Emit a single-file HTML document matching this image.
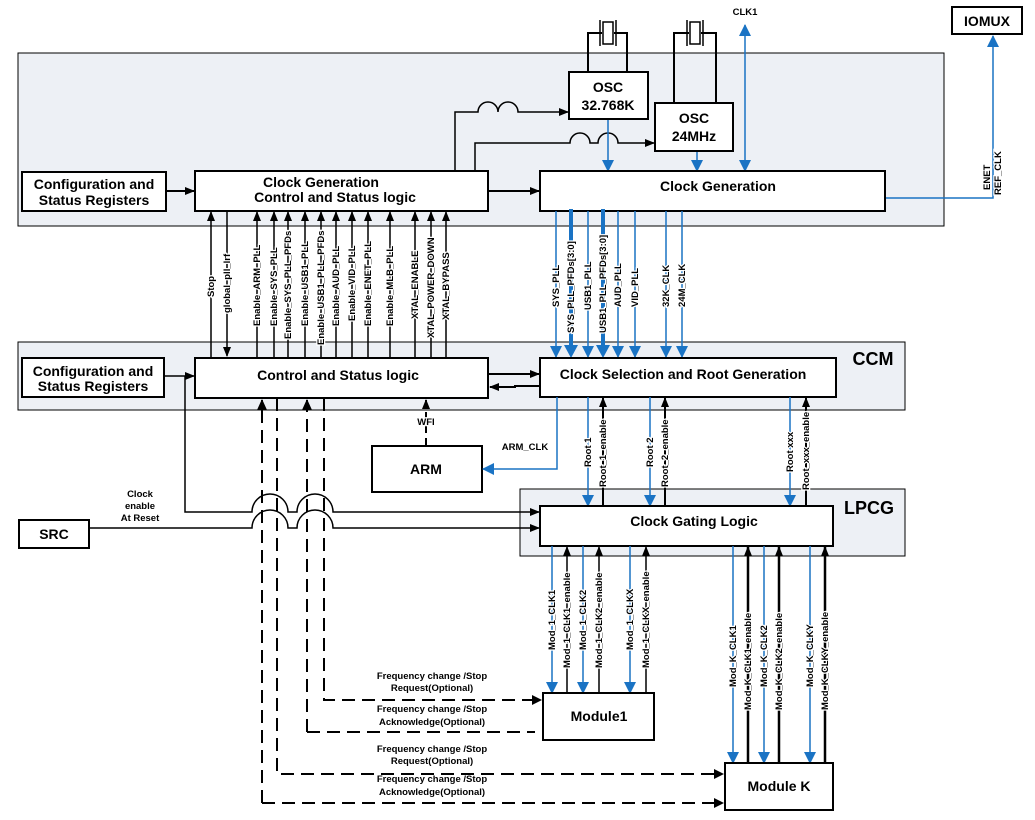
<!DOCTYPE html>
<html><head><meta charset="utf-8"><style>
html,body{margin:0;padding:0;background:#fff}
svg{display:block;font-family:"Liberation Sans",Arial,sans-serif}
.b{font-weight:bold}
.t{font-size:14px;font-weight:bold;text-anchor:middle}
.s{font-size:9.5px;font-weight:bold;paint-order:stroke;stroke:#fff;stroke-width:2.5px}
.k{stroke:#000;fill:none}
.bl{stroke:#1a73c4;fill:none}
.box{fill:#fff;stroke:#000;stroke-width:2}
.pan{fill:#edf0f5;stroke:#000;stroke-width:1}
.d{stroke:#000;fill:none;stroke-width:2;stroke-dasharray:13,7}
</style></head><body>
<svg width="1035" height="820" viewBox="0 0 1035 820">
<defs>
<marker id="ak" markerWidth="10" markerHeight="10" refX="9" refY="5" orient="auto" markerUnits="userSpaceOnUse"><path d="M0,1 L10,5 L0,9 Z" fill="#000"/></marker>
<marker id="ab" markerWidth="12" markerHeight="12" refX="11" refY="6" orient="auto" markerUnits="userSpaceOnUse"><path d="M0,0 L12,6 L0,12 Z" fill="#1a73c4"/></marker>
<marker id="abs" markerWidth="12" markerHeight="12" refX="1" refY="6" orient="auto" markerUnits="userSpaceOnUse"><path d="M12,0 L0,6 L12,12 Z" fill="#1a73c4"/></marker>
</defs>

<rect class="pan" x="18" y="53" width="926" height="173"/>
<rect class="pan" x="18" y="342" width="887" height="68"/>
<rect class="pan" x="520" y="489" width="385" height="67"/>
<text x="873" y="365" class="b" font-size="18" text-anchor="middle">CCM</text>
<text x="869" y="514" class="b" font-size="18" text-anchor="middle">LPCG</text>

<path class="k" stroke-width="2" d="M588,72 V33 H602 M614,33 H627 V72"/>
<rect x="603" y="22" width="10" height="22" fill="#fff" stroke="#000" stroke-width="1.5"/>
<line x1="600" y1="20" x2="600" y2="46" stroke="#000" stroke-width="1.5"/><line x1="616" y1="20" x2="616" y2="46" stroke="#000" stroke-width="1.5"/>
<path class="k" stroke-width="2" d="M674,103 V33 H689 M701,33 H716 V103"/>
<rect x="690" y="22" width="10" height="22" fill="#fff" stroke="#000" stroke-width="1.5"/>
<line x1="687" y1="20" x2="687" y2="46" stroke="#000" stroke-width="1.5"/><line x1="703" y1="20" x2="703" y2="46" stroke="#000" stroke-width="1.5"/>

<path class="k" stroke-width="1.5" d="M455,171 V112 H478 a10,10 0 0 1 20,0 a10,10 0 0 1 20,0 H568" marker-end="url(#ak)"/>
<path class="k" stroke-width="1.5" d="M475,171 V143 H570 a10,10 0 0 1 20,0 H598 a10,10 0 0 1 20,0 H654" marker-end="url(#ak)"/>
<line class="k" stroke-width="2" x1="166" y1="191" x2="194" y2="191" marker-end="url(#ak)"/>
<line class="k" stroke-width="2" x1="488" y1="191" x2="539" y2="191" marker-end="url(#ak)"/>
<line class="bl" stroke-width="1.5" x1="608" y1="119" x2="608" y2="171" marker-end="url(#ab)"/>
<line class="bl" stroke-width="1.5" x1="697" y1="151" x2="697" y2="171" marker-end="url(#ab)"/>
<line class="bl" stroke-width="1.5" x1="745" y1="171" x2="745" y2="25" marker-end="url(#ab)" marker-start="url(#abs)"/>
<text x="745" y="15" class="b" font-size="9.5" text-anchor="middle">CLK1</text>
<path class="bl" stroke-width="1.5" d="M885,198 H993 V36" marker-end="url(#ab)"/>
<text class="s" transform="translate(990,190) rotate(-90)">ENET</text>
<text class="s" transform="translate(1001,195) rotate(-90)">REF_CLK</text>

<rect class="box" x="952" y="7" width="70" height="27"/><text x="987" y="26" class="t">IOMUX</text>
<rect class="box" x="569" y="72" width="79" height="47"/><text x="608" y="92" class="t">OSC</text><text x="608" y="110" class="t">32.768K</text>
<rect class="box" x="655" y="103" width="78" height="48"/><text x="694" y="123" class="t">OSC</text><text x="694" y="141" class="t">24MHz</text>
<rect class="box" x="22" y="172" width="144" height="39"/><text x="94" y="189" class="t">Configuration and</text><text x="94" y="205" class="t">Status Registers</text>
<rect class="box" x="195" y="171" width="293" height="40"/><text x="321" y="187" class="t">Clock Generation</text><text x="335" y="202" class="t">Control and Status logic</text>
<rect class="box" x="540" y="171" width="345" height="40"/><text x="718" y="191" class="t">Clock Generation</text>

<g stroke-width="1.5">
<line class="k" x1="211" y1="357" x2="211" y2="212" marker-end="url(#ak)"/>
<line class="k" x1="227" y1="211" x2="227" y2="356" marker-end="url(#ak)"/>
<line class="k" x1="257" y1="357" x2="257" y2="212" marker-end="url(#ak)"/>
<line class="k" x1="274" y1="357" x2="274" y2="212" marker-end="url(#ak)"/>
<line class="k" x1="288" y1="357" x2="288" y2="212" marker-end="url(#ak)"/>
<line class="k" x1="305" y1="357" x2="305" y2="212" marker-end="url(#ak)"/>
<line class="k" x1="321" y1="357" x2="321" y2="212" marker-end="url(#ak)"/>
<line class="k" x1="336" y1="357" x2="336" y2="212" marker-end="url(#ak)"/>
<line class="k" x1="352" y1="357" x2="352" y2="212" marker-end="url(#ak)"/>
<line class="k" x1="368" y1="357" x2="368" y2="212" marker-end="url(#ak)"/>
<line class="k" x1="390" y1="357" x2="390" y2="212" marker-end="url(#ak)"/>
<line class="k" x1="415" y1="357" x2="415" y2="212" marker-end="url(#ak)"/>
<line class="k" x1="431" y1="357" x2="431" y2="212" marker-end="url(#ak)"/>
<line class="k" x1="446" y1="357" x2="446" y2="212" marker-end="url(#ak)"/>
</g>
<g>
<text class="s" transform="translate(214,297) rotate(-90)">Stop</text>
<text class="s" transform="translate(230,313) rotate(-90)">global_pll_lrf</text>
<text class="s" transform="translate(260,326) rotate(-90)">Enable_ARM_PLL</text>
<text class="s" transform="translate(277,326) rotate(-90)">Enable_SYS_PLL</text>
<text class="s" transform="translate(291,339) rotate(-90)">Enable_SYS_PLL_PFDs</text>
<text class="s" transform="translate(308,326) rotate(-90)">Enable_USB1_PLL</text>
<text class="s" transform="translate(324,345) rotate(-90)">Enable_USB1_PLL_PFDs</text>
<text class="s" transform="translate(339,326) rotate(-90)">Enable_AUD_PLL</text>
<text class="s" transform="translate(355,321) rotate(-90)">Enable_VID_PLL</text>
<text class="s" transform="translate(371,326) rotate(-90)">Enable_ENET_PLL</text>
<text class="s" transform="translate(393,326) rotate(-90)">Enable_MLB_PLL</text>
<text class="s" transform="translate(418,319) rotate(-90)">XTAL_ENABLE</text>
<text class="s" transform="translate(434,338) rotate(-90)">XTAL_POWER_DOWN</text>
<text class="s" transform="translate(449,320) rotate(-90)">XTAL_BYPASS</text>
</g>

<g>
<line class="bl" stroke-width="1.5" x1="556" y1="211" x2="556" y2="357" marker-end="url(#ab)"/>
<line class="bl" stroke-width="4" x1="571" y1="209" x2="571" y2="350"/><path d="M564,345 L578,345 L571,358 Z" fill="#1a73c4"/>
<line class="bl" stroke-width="1.5" x1="588" y1="211" x2="588" y2="357" marker-end="url(#ab)"/>
<line class="bl" stroke-width="4" x1="603" y1="209" x2="603" y2="350"/><path d="M596,345 L610,345 L603,358 Z" fill="#1a73c4"/>
<line class="bl" stroke-width="1.5" x1="618" y1="211" x2="618" y2="357" marker-end="url(#ab)"/>
<line class="bl" stroke-width="1.5" x1="635" y1="211" x2="635" y2="357" marker-end="url(#ab)"/>
<line class="bl" stroke-width="1.5" x1="666" y1="211" x2="666" y2="357" marker-end="url(#ab)"/>
<line class="bl" stroke-width="1.5" x1="682" y1="211" x2="682" y2="357" marker-end="url(#ab)"/>
<text class="s" transform="translate(559,307) rotate(-90)">SYS_PLL</text>
<text class="s" transform="translate(574,333) rotate(-90)">SYS_PLL_PFDs[3:0]</text>
<text class="s" transform="translate(591,310) rotate(-90)">USB1_PLL</text>
<text class="s" transform="translate(606,333) rotate(-90)">USB1_PLL_PFDs[3:0]</text>
<text class="s" transform="translate(621,307) rotate(-90)">AUD_PLL</text>
<text class="s" transform="translate(638,307) rotate(-90)">VID_PLL</text>
<text class="s" transform="translate(669,307) rotate(-90)">32K_CLK</text>
<text class="s" transform="translate(685,307) rotate(-90)">24M_CLK</text>
</g>

<rect class="box" x="22" y="358" width="142" height="39"/><text x="93" y="376" class="t">Configuration and</text><text x="93" y="391" class="t">Status Registers</text>
<rect class="box" x="195" y="358" width="293" height="40"/><text x="338" y="380" class="t">Control and Status logic</text>
<rect class="box" x="540" y="358" width="296" height="39"/><text x="683" y="379" class="t">Clock Selection and Root Generation</text>
<line class="k" stroke-width="2" x1="488" y1="374" x2="539" y2="374" marker-end="url(#ak)"/>
<path class="k" stroke-width="2" d="M540,386 H515 V387 H490" marker-end="url(#ak)"/>
<path class="k" stroke-width="1.5" d="M164,376 H194" marker-end="url(#ak)"/>
<path class="k" stroke-width="1.5" d="M185,376 V512 H252 a18,18 0 0 1 36,0 H297 a18,18 0 0 1 36,0 H539" marker-end="url(#ak)"/>
<path class="k" stroke-width="1.5" d="M89,528 H252 a18,18 0 0 1 36,0 H297 a18,18 0 0 1 36,0 H539" marker-end="url(#ak)"/>
<rect class="box" x="19" y="520" width="70" height="28"/><text x="54" y="539" class="t">SRC</text>
<text x="140" y="497" class="b" font-size="9.5" text-anchor="middle">Clock</text>
<text x="140" y="509" class="b" font-size="9.5" text-anchor="middle">enable</text>
<text x="140" y="521" class="b" font-size="9.5" text-anchor="middle">At Reset</text>

<rect class="box" x="372" y="446" width="110" height="46"/><text x="426" y="474" class="t">ARM</text>
<line class="k" stroke-width="2" stroke-dasharray="8,5" x1="426" y1="446" x2="426" y2="400" marker-end="url(#ak)"/>
<text x="426" y="425" class="s" text-anchor="middle">WFI</text>
<path class="bl" stroke-width="1.5" d="M557,397 V469 H483" marker-end="url(#ab)"/>
<text x="525" y="450" class="b" font-size="9.5" text-anchor="middle">ARM_CLK</text>

<line class="bl" stroke-width="1.5" x1="588" y1="397" x2="588" y2="506" marker-end="url(#ab)"/>
<line class="k" stroke-width="2" x1="603" y1="506" x2="603" y2="398" marker-end="url(#ak)"/>
<line class="bl" stroke-width="1.5" x1="650" y1="397" x2="650" y2="506" marker-end="url(#ab)"/>
<line class="k" stroke-width="2" x1="665" y1="506" x2="665" y2="398" marker-end="url(#ak)"/>
<line class="bl" stroke-width="1.5" x1="790" y1="397" x2="790" y2="506" marker-end="url(#ab)"/>
<line class="k" stroke-width="2" x1="806" y1="506" x2="806" y2="398" marker-end="url(#ak)"/>
<text class="s" transform="translate(591,467) rotate(-90)">Root 1</text>
<text class="s" transform="translate(606,487) rotate(-90)">Root_1_enable</text>
<text class="s" transform="translate(653,467) rotate(-90)">Root 2</text>
<text class="s" transform="translate(668,487) rotate(-90)">Root_2_enable</text>
<text class="s" transform="translate(793,472) rotate(-90)">Root xxx</text>
<text class="s" transform="translate(809,490) rotate(-90)">Root_xxx_enable</text>

<rect class="box" x="540" y="506" width="293" height="40"/><text x="694" y="526" class="t">Clock Gating Logic</text>

<line class="bl" stroke-width="1.5" x1="552" y1="546" x2="552" y2="693" marker-end="url(#ab)"/>
<line class="k" stroke-width="1.5" x1="567" y1="693" x2="567" y2="547" marker-end="url(#ak)"/>
<line class="bl" stroke-width="1.5" x1="583" y1="546" x2="583" y2="693" marker-end="url(#ab)"/>
<line class="k" stroke-width="1.5" x1="599" y1="693" x2="599" y2="547" marker-end="url(#ak)"/>
<line class="bl" stroke-width="1.5" x1="630" y1="546" x2="630" y2="693" marker-end="url(#ab)"/>
<line class="k" stroke-width="1.5" x1="646" y1="693" x2="646" y2="547" marker-end="url(#ak)"/>
<text class="s" transform="translate(555,650) rotate(-90)">Mod_1_CLK1</text>
<text class="s" transform="translate(570,668) rotate(-90)">Mod_1_CLK1_enable</text>
<text class="s" transform="translate(586,650) rotate(-90)">Mod_1_CLK2</text>
<text class="s" transform="translate(602,668) rotate(-90)">Mod_1_CLK2_enable</text>
<text class="s" transform="translate(633,650) rotate(-90)">Mod_1_CLKX</text>
<text class="s" transform="translate(649,668) rotate(-90)">Mod_1_CLKX_enable</text>

<line class="bl" stroke-width="1.5" x1="733" y1="546" x2="733" y2="763" marker-end="url(#ab)"/>
<line class="k" stroke-width="2.5" x1="748" y1="763" x2="748" y2="547" marker-end="url(#ak)"/>
<line class="bl" stroke-width="1.5" x1="764" y1="546" x2="764" y2="763" marker-end="url(#ab)"/>
<line class="k" stroke-width="2.5" x1="779" y1="763" x2="779" y2="547" marker-end="url(#ak)"/>
<line class="bl" stroke-width="1.5" x1="810" y1="546" x2="810" y2="763" marker-end="url(#ab)"/>
<line class="k" stroke-width="2.5" x1="825" y1="763" x2="825" y2="547" marker-end="url(#ak)"/>
<text class="s" transform="translate(736,687) rotate(-90)">Mod_K_CLK1</text>
<text class="s" transform="translate(751,710) rotate(-90)">Mod_K_CLK1_enable</text>
<text class="s" transform="translate(767,687) rotate(-90)">Mod_K_CLK2</text>
<text class="s" transform="translate(782,710) rotate(-90)">Mod_K_CLK2_enable</text>
<text class="s" transform="translate(813,687) rotate(-90)">Mod_K_CLKY</text>
<text class="s" transform="translate(828,710) rotate(-90)">Mod_K_CLKY_enable</text>

<rect class="box" x="543" y="693" width="111" height="47"/><text x="599" y="721" class="t">Module1</text>
<rect class="box" x="725" y="763" width="108" height="47"/><text x="779" y="791" class="t">Module K</text>

<path class="d" d="M262,803 V400"/><path d="M257,410 L262,399 L267,410 Z" fill="#000"/>
<path class="d" d="M277,398 V774 H715"/><path d="M714,769 L724,774 L714,779 Z" fill="#000"/>
<path class="d" d="M307,732 V400"/><path d="M302,410 L307,399 L312,410 Z" fill="#000"/>
<path class="d" d="M324,398 V700 H533"/><path d="M532,695 L542,700 L532,705 Z" fill="#000"/>
<path class="d" d="M307,732 H535"/>
<path class="d" d="M262,803 H715"/><path d="M714,798 L724,803 L714,808 Z" fill="#000"/>
<g class="b" font-size="9.5" text-anchor="middle">
<text x="432" y="679">Frequency change /Stop</text><text x="432" y="691">Request(Optional)</text>
<text x="432" y="712">Frequency change /Stop</text><text x="432" y="725">Acknowledge(Optional)</text>
<text x="432" y="752">Frequency change /Stop</text><text x="432" y="764">Request(Optional)</text>
<text x="432" y="782">Frequency change /Stop</text><text x="432" y="795">Acknowledge(Optional)</text>
</g>
</svg>
</body></html>
